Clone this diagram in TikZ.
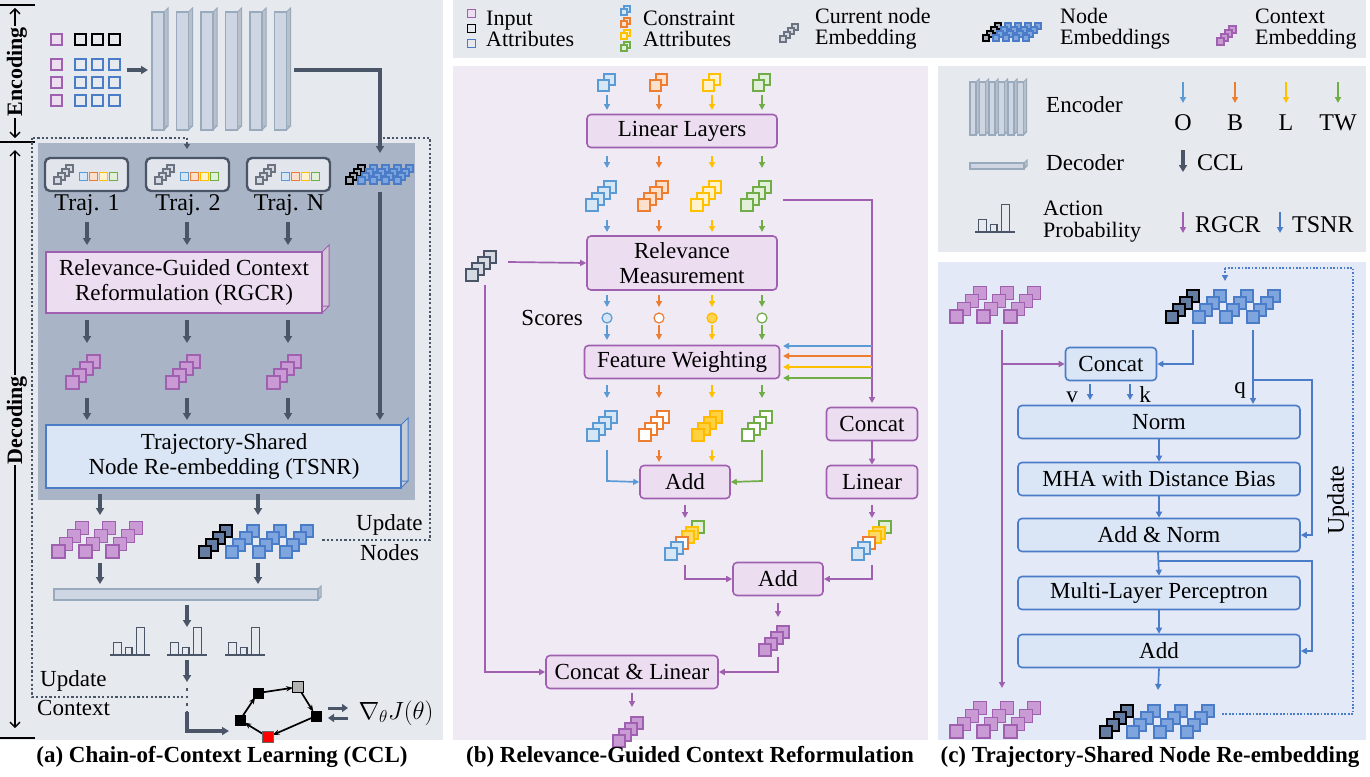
\documentclass[tikz,border=0pt]{standalone}
\usepackage{fontspec}
\setmainfont{Liberation Serif}
\usetikzlibrary{arrows.meta}
\definecolor{bga}{HTML}{E6E9EE}
\definecolor{bgb}{HTML}{F0EAF4}
\definecolor{bgc}{HTML}{E3E9F6}
\definecolor{dk}{HTML}{4A5568}
\definecolor{shd}{HTML}{A9B5C6}
\definecolor{pu}{HTML}{A060B0}
\definecolor{puf}{HTML}{C99AD3}
\definecolor{pul}{HTML}{ECDDF0}
\definecolor{bl}{HTML}{4A7CC8}
\definecolor{blf}{HTML}{7FA5DE}
\definecolor{bll}{HTML}{DAE5F5}
\definecolor{lb}{HTML}{5B9BD5}
\definecolor{lbf}{HTML}{D6E6F5}
\definecolor{orc}{HTML}{ED7D31}
\definecolor{orf}{HTML}{FDE0CC}
\definecolor{ye}{HTML}{FFC000}
\definecolor{yef}{HTML}{FFF2CC}
\definecolor{gr}{HTML}{70AD47}
\definecolor{grf}{HTML}{E2F0D9}
\definecolor{gy}{HTML}{6B7280}
\definecolor{gyf}{HTML}{D5DAE2}
\definecolor{encf}{HTML}{CDD6E2}
\definecolor{encd}{HTML}{9AAABD}
\newcommand\sqs[7]{\foreach \i in {#3}{\draw[draw=#6,fill=#7,line width=1.3pt] ({#1+\i*#5},{#2-\i*#5}) rectangle ++(#4,-#4);}}
\newcommand\slab[7]{\fill[#7!80!gray!90] (#1,#2)--++(#5,-#5)--(#3+#5,#2-#5)--(#3,#2)--cycle;
 \fill[#7!75!gray] (#3,#2)--(#3+#5,#2-#5)--(#3+#5,#4-#5)--(#3,#4)--cycle;
 \draw[#6,line width=1pt] (#1,#2)--++(#5,-#5)--(#3+#5,#2-#5)--(#3+#5,#4-#5)--(#3,#4) (#3,#2)--(#3+#5,#2-#5);
 \draw[#6,line width=1.4pt,fill=#7] (#1,#2) rectangle (#3,#4);}
\newcommand\cemb[5]{\foreach \g in {0,...,#4}{\sqs{#1+\g*#5}{#2}{3,2,1,0}{#3}{0.6*#3}{pu}{puf}}}
\newcommand\bars[3]{\begin{scope}[shift={(#1,#2)},scale=#3]\draw[dk,line width=1.3pt] (0,0)--(42,0) (4,0)--(4,-13)--(12,-13)--(12,0) (16,0)--(16,-8)--(23,-8)--(23,0) (28,0)--(28,-29)--(36,-29)--(36,0);\end{scope}}
\tikzset{x=1pt,y=-1pt,
 T/.style={font=\fontsize{23}{25}\selectfont,align=center,inner sep=0pt},
 L/.style={font=\fontsize{22}{21}\selectfont,align=left,anchor=west,inner sep=0pt},
 pbox/.style={draw=pu,fill=pul,line width=1.6pt,rounded corners=4pt,font=\fontsize{23}{25}\selectfont,align=center,inner sep=2pt},
 bbox/.style={draw=bl,fill=bll,line width=1.6pt,rounded corners=4pt,font=\fontsize{23}{25}\selectfont,align=center,inner sep=2pt},
 ck/.style={-{Triangle[length=7pt,width=8pt]},line width=3.6pt,dk},
 pa/.style={-{Triangle[length=6pt,width=6pt]},line width=1.7pt,pu},
 ba/.style={-{Triangle[length=6pt,width=6pt]},line width=1.7pt,bl},
 ca/.style={-{Triangle[length=6pt,width=6pt]},line width=1.7pt,#1},
 capt/.style={font=\bfseries\fontsize{23}{25}\selectfont,inner sep=0pt},
 dott/.style={dk,line width=2.2pt,dash pattern=on 2.2pt off 2.2pt}}
\begin{document}
\begin{tikzpicture}
\useasboundingbox (0,0) rectangle (1370,776);
\fill[white] (0,0) rectangle (1370,776);
% panels
\fill[bga] (0,0) rectangle (443,740);
\fill[bga] (453,0) rectangle (1366,58);
\fill[bgb] (453,66) rectangle (928,740);
\fill[bga] (938,66) rectangle (1366,252);
\fill[bgc] (938,262) rectangle (1366,740);
% ===== panel a =====
\draw[line width=1.3pt] (0,5)--(35,5) (0,142)--(35,142) (0,738)--(35,738);
\draw[-{Straight Barb[length=5pt]},line width=1.3pt] (15,70)--(15,8);
\draw[-{Straight Barb[length=5pt]},line width=1.3pt] (15,70)--(15,138);
\node[T,fill=bga,rotate=90,font=\bfseries\fontsize{22}{24}\selectfont,inner sep=1pt] (enc) at (17,72) {Encoding};
\draw[-{Straight Barb[length=5pt]},line width=1.3pt] (15,420)--(15,150);
\draw[-{Straight Barb[length=5pt]},line width=1.3pt] (15,420)--(15,728);
\node[T,fill=bga,rotate=90,font=\bfseries\fontsize{22}{24}\selectfont,inner sep=1pt] (dec) at (17,420) {Decoding};
% inputs
\foreach \yy in {45,70,88,106}{\draw[pu,fill=pul,line width=1.3pt] (51,\yy) rectangle ++(11,-11);}
\foreach \xx in {75,92,109}{\draw[black,line width=1.3pt] (\xx,45) rectangle ++(11,-11);
 \foreach \yy in {70,88,106}{\draw[bl,line width=1.3pt] (\xx,\yy) rectangle ++(11,-11);}}
\coordinate (inp) at (127,70);
% encoder
\foreach \k in {0,...,5}{\slab{152+\k*24.5}{130}{164+\k*24.5}{12}{4}{encd}{encf}}
\coordinate (encR) at (294,70);
\draw[ck] (inp)--(148,70);
% dark region
\fill[shd] (38,143) rectangle (415,500);
\draw[dott] (33,138)--(187,138); \draw[dott,-{Triangle[length=5pt,width=6pt]}] (187,138)--(187,149);
\draw[dott] (383,138)--(430,138)--(430,540)--(322,540);
\draw[dott] (32,138)--(32,697)--(183,697);
\node[T,anchor=west] (updn) at (356,525) {Update};
\node[T,anchor=west] (updn2) at (360,553) {Nodes};
\node[T,anchor=west] (updc) at (40,681) {Update};
\node[T,anchor=west] (updc2) at (37,708) {Context};
\draw[ck,line width=3.2pt] (encR)--(380,70)--(380,153);
% trajectories
\foreach \xx/\lab/\nm in {45/Traj. 1/t1,146/Traj. 2/t2,247/Traj. N/tn}{
 \draw[dk,fill=gyf!70!white,line width=2.4pt,rounded corners=5pt] (\xx,158) rectangle ++(83,33);
 \sqs{\xx+9}{184}{3,2,1,0}{7}{4}{gy}{gyf}
 \draw[lb,fill=lbf,line width=1pt] (\xx+34,180) rectangle ++(8,-8);
 \draw[orc,fill=orf,line width=1pt] (\xx+44,180) rectangle ++(8,-8);
 \draw[ye,fill=yef,line width=1pt] (\xx+54,180) rectangle ++(8,-8);
 \draw[gr,fill=grf,line width=1pt] (\xx+64,180) rectangle ++(8,-8);
 \node[T,font=\fontsize{24}{26}\selectfont] (\nm) at (\xx+42,205) {\lab};}
\sqs{346}{184}{3,2,1,0}{7}{4}{black}{dk!50}
\foreach \g in {1,...,4}{\sqs{346+\g*12}{184}{3,2,1,0}{7}{4}{bl}{blf}}
\foreach \xx in {87,187,288}{\draw[ck] (\xx,222)--(\xx,245);}
\slab{46}{313}{322}{252}{7}{pu}{pul}
\node[T] (rgcr) at (184,282) {Relevance-Guided Context\\Reformulation (RGCR)};
\foreach \xx in {87,187,288}{\draw[ck] (\xx,320)--(\xx,343);
 \sqs{\xx-21}{389}{3,2,1,0}{13}{7}{pu}{puf}
 \draw[ck] (\xx,398)--(\xx,420);}
\draw[ck,line width=3.2pt] (380,192)--(380,420);
\slab{46}{488}{401}{425}{7}{bl}{bll}
\node[T] (tsnr) at (224,456) {Trajectory-Shared\\Node Re-embedding (TSNR)};
\draw[ck] (100,494)--(100,515); \draw[ck] (258,494)--(258,515);
\cemb{52}{558}{13}{2}{27}
\sqs{199}{558}{3,2,1,0}{12}{7}{black}{dk!50!blf}
\foreach \g in {1,2,3}{\sqs{199+\g*27}{558}{3,2,1,0}{12}{7}{bl}{blf}}
\draw[ck] (100,563)--(100,584); \draw[ck] (258,563)--(258,584);
\slab{54}{600}{318}{589}{3}{encd}{encf}
\draw[ck] (187,605)--(187,627);
\bars{110}{655}{0.95}\bars{167}{655}{0.95}\bars{225}{655}{0.95}
\draw[ck] (187,660)--(187,682);
\draw[dk,line width=2.6pt,dash pattern=on 2.6pt off 5pt] (187,688)--(187,712);
\draw[ck] (187,712)--(187,731)--(229,731);
% graph
\coordinate (g1) at (258,693); \coordinate (g2) at (298,687); \coordinate (g3) at (316,716); \coordinate (g4) at (240,720); \coordinate (g5) at (268,737);
\foreach \a/\b in {g4/g1,g1/g2,g2/g3,g3/g5,g5/g4}{\draw[-{Stealth[length=7pt]},line width=1.7pt,shorten <=5pt,shorten >=5pt] (\a)--(\b);}
\foreach \g in {g1,g3,g4}{\fill[black] (\g) +(-5.5,-5.5) rectangle +(5.5,5.5);}
\draw[black,line width=1pt,fill=gray!60] (g2) +(-5.5,-5.5) rectangle +(5.5,5.5);
\draw[black!60,fill=red] (g5) +(-5.5,-5.5) rectangle +(5.5,5.5);
\draw[dk,line width=3pt,-{Triangle[length=6pt,width=8pt]}] (328,708)--(348,708);
\draw[dk,line width=3pt,-{Triangle[length=6pt,width=8pt]}] (348,718)--(328,718);
\node[T,font=\fontsize{25}{27}\selectfont] (grad) at (396,713) {$\nabla_{\theta}J(\theta)$};
\node[capt] (capa) at (222,757) {(a) Chain-of-Context Learning (CCL)};
% ===== legend =====
\draw[pu,fill=pul,line width=1pt] (467,18) rectangle ++(8,-8);
\draw[black,line width=1pt] (467,33) rectangle ++(8,-8);
\draw[bl,line width=1pt] (467,48) rectangle ++(8,-8);
\node[L] (l1) at (486,29) {Input\\Attributes};
\foreach \c/\f/\yy in {lb/lbf/6,orc/orf/18,ye/yef/30,gr/grf/42}{\sqs{621}{\yy+9}{1,0}{6}{3}{\c}{\f}}
\node[L] (l2) at (643,29) {Constraint\\Attributes};
\sqs{780}{42}{3,2,1,0}{6}{4}{gy}{gyf}
\node[L] (l3) at (815,29) {Current node\\Embedding};
\sqs{983}{41}{3,2,1,0}{6}{4}{black}{dk!50}
\foreach \g in {1,...,4}{\sqs{983+\g*10}{41}{3,2,1,0}{6}{4}{bl}{blf}}
\node[L] (l4) at (1060,29) {Node\\Embeddings};
\sqs{1217}{45}{3,2,1,0}{7}{4}{pu}{puf}
\node[L] (l5) at (1255,29) {Context\\Embedding};
% ===== panel b =====
\foreach \xx/\c/\f in {607/lb/lbf,659/orc/orf,712/ye/yef,762/gr/grf}{
 \sqs{\xx-9}{91}{1,0}{11}{6}{\c}{\f}
 \draw[ca=\c] (\xx,95)--(\xx,110);
 \draw[ca=\c] (\xx,156)--(\xx,168);
 \sqs{\xx-21}{211}{3,2,1,0}{12}{6}{\c}{\f}
 \draw[ca=\c] (\xx,220)--(\xx,232);
 \draw[ca=\c] (\xx,295)--(\xx,307);
 \draw[ca=\c] (\xx,325)--(\xx,340);
 \draw[ca=\c] (\xx,385)--(\xx,398);}
\node[pbox,minimum width=190,minimum height=33] (ll) at (682,131) {Linear Layers};
\node[pbox,minimum width=190,minimum height=54] (rm) at (682,263) {Relevance\\Measurement};
\node[pbox,minimum width=195,minimum height=33] (fw) at (682,362) {Feature Weighting};
\draw[lb,line width=1.2pt,fill=lbf] (607,318) circle (5);
\draw[orc,line width=1.2pt,fill=white] (659,318) circle (5);
\draw[ye!90!orange,line width=1.2pt,fill=ye!70] (712,318) circle (5);
\draw[gr,line width=1.2pt,fill=white] (762,318) circle (5);
\node[T,anchor=east] (sc) at (583,318) {Scores};
\sqs{466}{281}{3,2,1,0}{12}{6}{dk}{gyf}
\draw[pa] (508,262)--(rm.west);
\draw[pa] (783,200)--(872,200)--(872,403);
\foreach \c/\yy in {lb/346,orc/356,ye/367,gr/378}{\draw[ca=\c] (872,\yy)--(783,\yy);}
\sqs{587}{441}{3,2,1,0}{12}{6}{lb}{lbf}
\sqs{639}{441}{3,2,1,0}{12}{6}{orc}{white}
\sqs{692}{441}{3,2,1,0}{12}{6}{ye!90!orange}{ye!75}
\sqs{742}{441}{3,2,1,0}{12}{6}{gr}{white}
\node[pbox,minimum width=90,minimum height=33] (add1) at (685,482) {Add};
\node[pbox,minimum width=91,minimum height=33] (cc) at (872,424) {Concat};
\node[pbox,minimum width=91,minimum height=33] (lin) at (872,482) {Linear};
\draw[ca=lb] (607,450)--(607,481)--(add1.west);
\draw[ca=gr] (762,450)--(762,481)--(add1.east);
\draw[ca=orc] (659,450)--(659,462); \draw[ca=ye] (712,450)--(712,462);
\draw[pa] (cc.south)--(lin.north);
\draw[pa] (685,505)--(685,518);
\draw[pa] (872,505)--(872,518);
\foreach \xx in {665,852}{
 \draw[gr,fill=grf,line width=1.2pt] (\xx+27,533) rectangle ++(12,-12);
 \draw[ye,fill=ye!60,line width=1.2pt] (\xx+21,539) rectangle ++(12,-12);
 \draw[ye,fill=ye!60,line width=1.2pt] (\xx+17,543) rectangle ++(12,-12);
 \draw[orc,fill=white,line width=1.2pt] (\xx+11,549) rectangle ++(12,-12);
 \draw[lb,fill=lbf,line width=1.2pt] (\xx+6,554) rectangle ++(12,-12);
 \draw[lb,fill=lbf,line width=1.2pt] (\xx,560) rectangle ++(12,-12);}
\node[pbox,minimum width=90,minimum height=33] (add2) at (778,579) {Add};
\draw[pa] (685,565)--(685,579)--(add2.west);
\draw[pa] (872,565)--(872,579)--(add2.east);
\draw[pa] (778,603)--(778,617);
\sqs{759}{656}{3,2,1,0}{12}{6}{pu}{puf}
\node[pbox,minimum width=172,minimum height=33] (ccl) at (632,672) {Concat \& Linear};
\draw[pa] (778,657)--(778,672)--(ccl.east);
\draw[pa] (485,285)--(485,672)--(ccl.west);
\draw[pa] (632,693)--(632,707);
\sqs{613}{747}{3,2,1,0}{12}{6}{pu}{puf}
\node[capt] (capb) at (690,757) {(b) Relevance-Guided Context Reformulation};
% ===== panel c legend =====
\foreach \k in {0,...,5}{\slab{970+\k*9.5}{135}{976+\k*9.5}{82}{3}{encd}{encf}}
\node[T,anchor=west] (le) at (1046,105) {Encoder};
\slab{970}{169}{1024}{163}{3}{encd}{encf}
\node[T,anchor=west] (ld) at (1046,163) {Decoder};
\bars{975}{232}{0.95}
\node[T,align=left,anchor=west,font=\fontsize{22}{22}\selectfont] (lap) at (1043,222) {Action\\Probability};
\foreach \xx/\c/\lab in {1183/lb/O,1235/orc/B,1286/ye/L,1338/gr/TW}{
 \draw[ca=\c] (\xx,82)--(\xx,103);
 \node[T,font=\fontsize{24}{26}\selectfont] at (\xx,123) {\lab};}
\draw[ck,line width=4pt] (1183,150)--(1183,172);
\node[T,anchor=west,font=\fontsize{24}{26}\selectfont] (lccl) at (1197,163) {CCL};
\draw[pa] (1183,212)--(1183,233);
\node[T,anchor=west,font=\fontsize{24}{26}\selectfont] (lrg) at (1195,225) {RGCR};
\draw[ba] (1280,212)--(1280,233);
\node[T,anchor=west,font=\fontsize{24}{26}\selectfont] (lts) at (1292,225) {TSNR};
% ===== panel c =====
\cemb{950}{323}{13}{2}{27}
\sqs{1166}{323}{3,2,1,0}{12}{7}{black}{dk!50!blf}
\foreach \g in {1,2,3}{\sqs{1166+\g*27}{323}{3,2,1,0}{12}{7}{bl}{blf}}
\node[bbox,minimum width=91,minimum height=33] (cat) at (1111,364) {Concat};
\node[bbox,minimum width=282,minimum height=33] (nrm) at (1159,422) {Norm};
\node[bbox,minimum width=282,minimum height=33] (mha) at (1159,479) {MHA with Distance Bias};
\node[bbox,minimum width=282,minimum height=33] (an) at (1159,535) {Add \& Norm};
\node[bbox,minimum width=282,minimum height=33] (mlp) at (1159,593) {Multi-Layer Perceptron};
\node[bbox,minimum width=282,minimum height=33] (ad) at (1159,651) {Add};
\draw[pa] (1002,330)--(1002,688);
\draw[pa] (1002,364)--(cat.west);
\draw[ba] (1193,330)--(1193,364)--(cat.east);
\draw[ba] (1090,384)--(1090,400); \draw[ba] (1130,384)--(1130,400);
\node[T] (v) at (1072,397) {v}; \node[T] (k) at (1145,395) {k}; \node[T] (q) at (1240,390) {q};
\draw[ba] (1253,330)--(1253,404);
\draw[ba] (1253,380)--(1312,380)--(1312,535)--(an.east);
\draw[ba] (nrm.south)--(mha.north);
\draw[ba] (mha.south)--(an.north);
\draw[ba] (1158,552)--(mlp.north);
\draw[ba] (1158,561)--(1312,561)--(1312,651)--(ad.east);
\draw[ba] (mlp.south)--(ad.north);
\draw[ba] (ad.south)--(1158,690);
\cemb{950}{738}{13}{2}{27}
\sqs{1100}{738}{3,2,1,0}{12}{7}{black}{dk!50!blf}
\foreach \g in {1,2,3}{\sqs{1100+\g*27}{738}{3,2,1,0}{12}{7}{bl}{blf}}
\draw[bl,line width=1.7pt,dash pattern=on 1.7pt off 1.7pt] (1222,714)--(1353,714)--(1353,268)--(1225,268);
\draw[ba,dash pattern=on 1.7pt off 1.7pt] (1225,268)--(1225,281);
\node[T,rotate=90,font=\fontsize{24}{26}\selectfont] (upd) at (1338,500) {Update};
\node[capt] (capc) at (1150,757) {(c) Trajectory-Shared Node Re-embedding};
\end{tikzpicture}
\end{document}
